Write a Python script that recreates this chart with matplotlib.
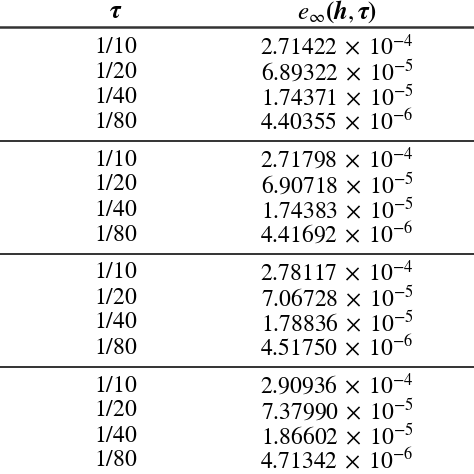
import matplotlib
matplotlib.use("Agg")
import matplotlib.pyplot as plt

plt.rcParams['mathtext.fontset'] = 'stix'
plt.rcParams['font.family'] = ['Liberation Serif', 'DejaVu Serif']

taus = ["1/10", "1/20", "1/40", "1/80"]
mantissas = [
    ["2.71422", "6.89322", "1.74371", "4.40355"],
    ["2.71798", "6.90718", "1.74383", "4.41692"],
    ["2.78117", "7.06728", "1.78836", "4.51750"],
    ["2.90936", "7.37990", "1.86602", "4.71342"],
]
exponents = [-4, -5, -5, -6]

fig = plt.figure(figsize=(4.74, 4.74), dpi=100)
ax = fig.add_axes([0, 0, 1, 1])
ax.set_xlim(0, 474)
ax.set_ylim(474, 0)
ax.axis("off")

x_tau, x_err = 116, 337
fs = 17

ax.text(x_tau, 12, r"$\boldsymbol{\tau}$", ha="center", va="center", fontsize=fs + 1)
ax.text(x_err, 12, r"$\boldsymbol{e_{\infty}(h,\tau)}$", ha="center", va="center", fontsize=fs + 1)
ax.axhline(27, color="#333333", lw=1.8)

group_start = 47
row_step = 25
group_step = 113
for g, mants in enumerate(mantissas):
    y0 = group_start + g * group_step
    if g > 0:
        ax.axhline(y0 - 19, color="#333333", lw=1.4)
    for i, (t, m) in enumerate(zip(taus, mants)):
        y = y0 + i * row_step
        ax.text(x_tau, y, rf"${t}$", ha="center", va="center", fontsize=fs)
        ax.text(x_err, y, rf"${m}\;\times\;10^{{{exponents[i]}}}$",
                ha="center", va="center", fontsize=fs)

fig.savefig("out.png", dpi=100)
